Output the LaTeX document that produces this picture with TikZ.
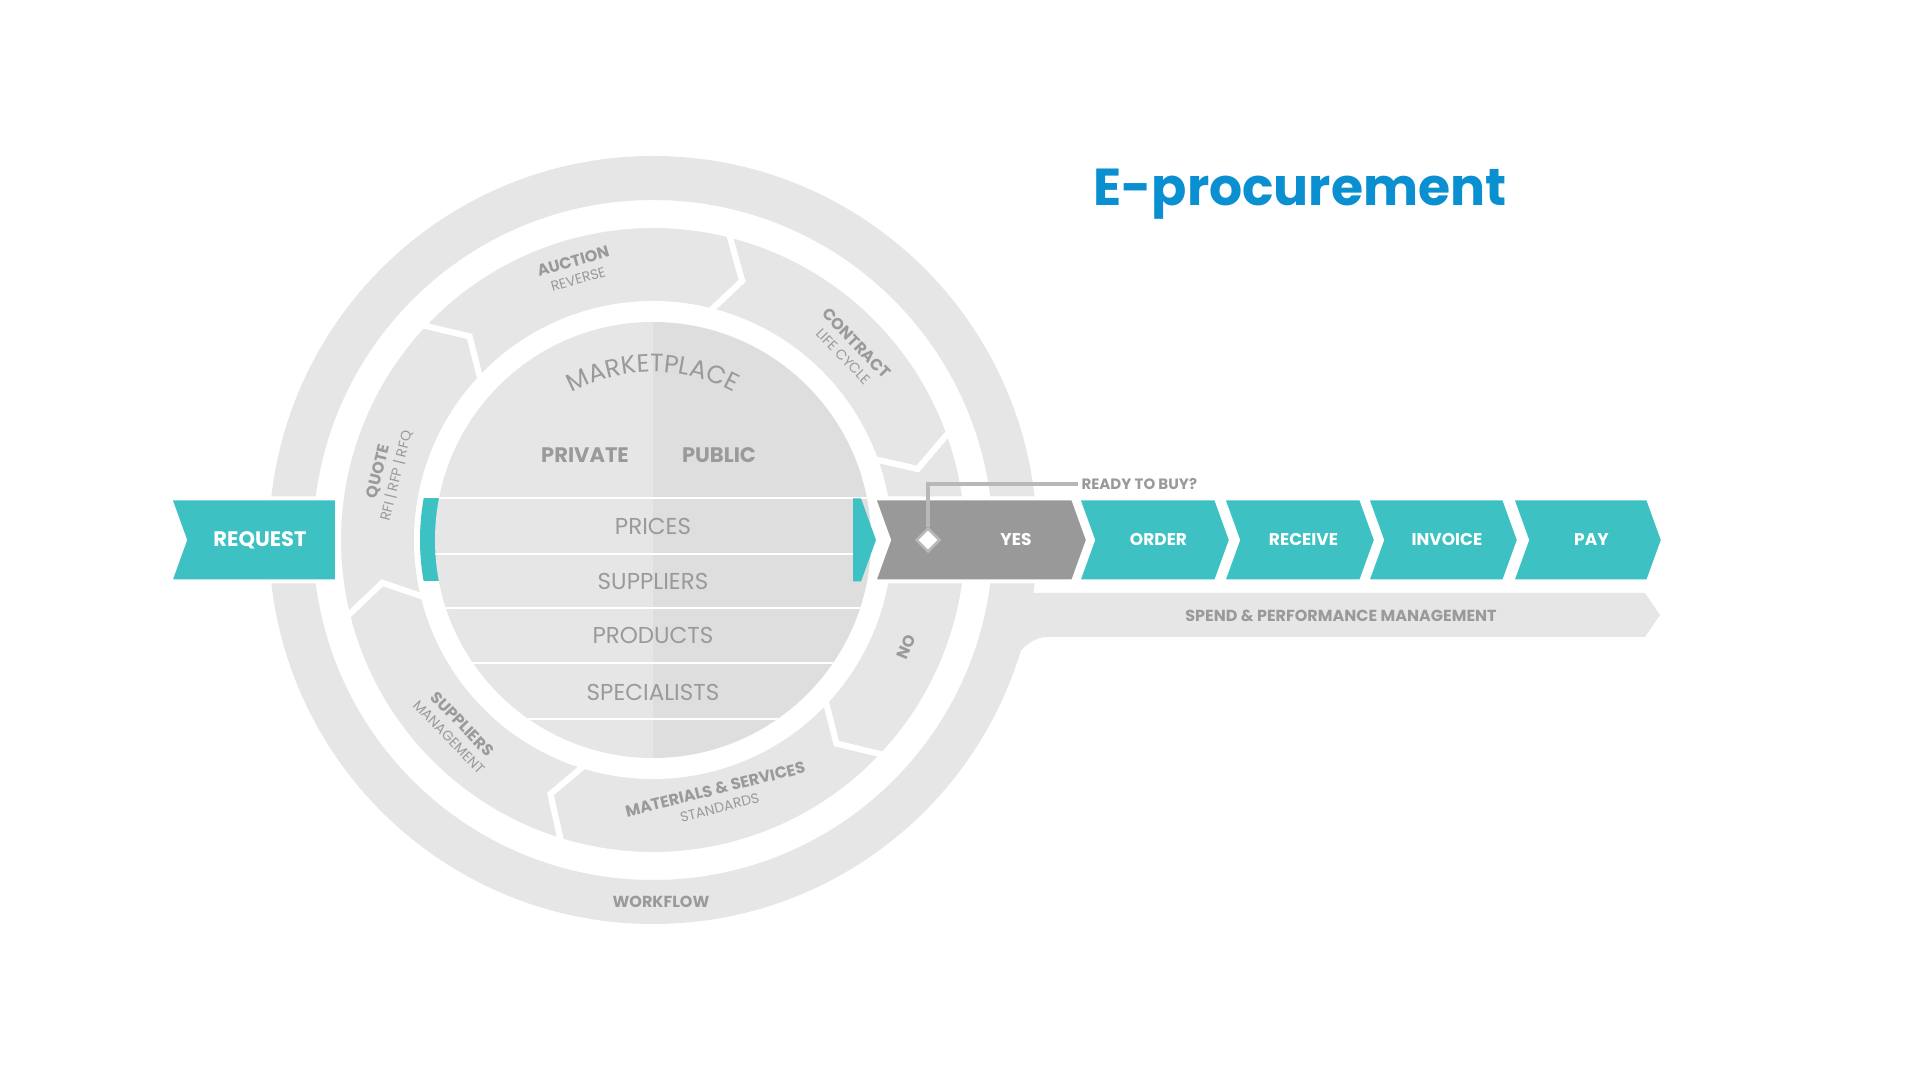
\documentclass[tikz,border=0pt]{standalone}
\usepackage{fontspec}
\setmainfont{Poppins}
\usetikzlibrary{shapes.geometric,decorations.text}
\definecolor{segc}{HTML}{E6E6E6}
\definecolor{segd}{HTML}{DEDEDE}
\definecolor{txt}{HTML}{9A9A9A}
\definecolor{tealc}{HTML}{3DC1C3}
\definecolor{yesc}{HTML}{999999}
\definecolor{titlec}{HTML}{0A8FD0}
\newcommand\fs[1]{\fontsize{#1}{#1}\selectfont}
\newcommand\segpath[2]{(#1:315) arc[start angle=#1,end angle=#2,radius=315] -- ({#2-5}:274) -- (#2:236) arc[start angle=#2,end angle=#1,radius=236] -- ({#1-5}:274) -- cycle}
\tikzset{
  seg/.style={fill=segc,draw=white,line width=6pt,line join=miter},
  chev/.style={fill=tealc,draw=white,line width=4pt,line join=miter},
  chevtxt/.style={text=white,font=\bfseries\fs{17}},
  seglab/.style={text=txt,align=center,inner sep=0pt,font=\fs{16}},
  rowtxt/.style={text=txt,font=\fs{23}},
}
\begin{document}
\begin{tikzpicture}[x=1pt,y=1pt]
\useasboundingbox[fill=white] (0,0) rectangle (1920,1080);
\begin{scope}[shift={(653,540)}]
% workflow ring
\fill[segc,even odd rule] (0,0) circle[radius=384] (0,0) circle[radius=340];
% spend bar
\fill[segc] (328,-100) -- (336,-65) .. controls (336,-57) and (341,-53) .. (350,-53) -- (992,-53) -- (1007,-75) -- (992,-97) -- (395,-97) .. controls (378,-97) and (368,-108) .. (345,-140) -- cycle;
\node[text=txt,font=\bfseries\fs{16}] (spend) at (688,-76) {SPEND \& PERFORMANCE MANAGEMENT};
\node[text=txt,font=\bfseries\fs{16}] (wf) at (8,-362) {WORKFLOW};
% request
\draw[chev] (-483,41.5) -- (-316,41.5) -- (-316,-41.5) -- (-483,-41.5) -- (-468,0) -- cycle;
\node[chevtxt,font=\bfseries\fs{21}] (req) at (-393,0) {REQUEST};
\draw[seg] \segpath{194}{137};
\draw[seg] \segpath{137}{76};
\draw[seg] \segpath{76}{20};
\draw[seg] \segpath{20}{-43};
\draw[seg] \segpath{-43}{-107};
\draw[seg] \segpath{-107}{-166};
% teal left piece
\begin{scope}
\clip (0,0) circle[radius=233];
\fill[tealc] (-250,-41.5) rectangle (-150,41.5);
\end{scope}
% inner circle
\fill[segc] (90:218) arc[start angle=90,end angle=270,radius=218] -- cycle;
\fill[segd] (90:218) arc[start angle=90,end angle=-90,radius=218] -- cycle;
\begin{scope}
\clip (0,0) circle[radius=218];
\foreach \yy in {41.5,-14,-68,-123,-179}{\draw[white,line width=2pt] (-230,\yy) -- (230,\yy);}
\end{scope}
\path[decorate,decoration={text along path,text align=center,text={|\color{txt}\fs{25}|MARKETPLACE}}] (124:168) arc[start angle=124,end angle=56,radius=168];
\node[text=txt,font=\bfseries\fs{21}] (priv) at (-68,85) {PRIVATE};
\node[text=txt,font=\bfseries\fs{21}] (pub) at (66,85) {PUBLIC};
\node[rowtxt] (prices) at (0,14) {PRICES};
\node[rowtxt] (supp) at (0,-41) {SUPPLIERS};
\node[rowtxt] (prod) at (0,-95) {PRODUCTS};
\node[rowtxt] (spec) at (0,-152) {SPECIALISTS};
% segment labels
\node[seglab,rotate=16] (auc) at (106:281) {{\bfseries AUCTION}\\[2pt]{\fs{14}REVERSE}};
\node[seglab,rotate=-46] (con) at (44:274) {{\bfseries CONTRACT}\\[2pt]{\fs{14}LIFE CYCLE}};
\node[seglab,rotate=76] (quo) at (166:274) {{\bfseries QUOTE}\\[2pt]{\fs{14}RFI | RFP | RFQ}};
\node[seglab,rotate=67] (no) at (-23:275) {{\bfseries NO}};
\node[seglab,rotate=14] (mat) at (-76:266) {{\bfseries MATERIALS \& SERVICES}\\[2pt]{\fs{14}STANDARDS}};
\node[seglab,rotate=-46] (sup) at (-136:274) {{\bfseries SUPPLIERS}\\[2pt]{\fs{14}MANAGEMENT}};
% right teal
\fill[tealc] (200,41.5) -- (208,41.5) -- (223,0) -- (208,-41.5) -- (200,-41.5) -- cycle;
\end{scope}
% chevrons
\draw[chev,fill=yesc] (874,581.5) -- (1073,581.5) -- (1088,540) -- (1073,498.5) -- (874,498.5) -- (889,540) -- cycle;
\node[chevtxt] (yes) at (1016,540) {YES};
\foreach \L/\R/\t/\n in {1078/1231/ORDER/ord,1223/1376/RECEIVE/rec,1367/1519/INVOICE/inv,1512/1663/PAY/pay}{
  \draw[chev] (\L,581.5) -- ({\R-15},581.5) -- (\R,540) -- ({\R-15},498.5) -- (\L,498.5) -- ({\L+15},540) -- cycle;
  \node[chevtxt] (\n) at ({(\L+\R)/2+4},540) {\t};
}
% ready to buy
\node[diamond,fill=white,draw=yesc!70,line width=2.5pt,minimum size=24pt,inner sep=0pt] (dia) at (928,540) {};
\node[anchor=west,text=txt,font=\bfseries\fs{15}] (ready) at (1078,596) {READY TO BUY?};
\coordinate (corner) at (928,596);
\draw[yesc!70,line width=4pt] (dia.north) -- (corner) -- (ready.west);
% title
\node[text=titlec,font=\bfseries\fs{52}] (title) at (1300,886) {E-procurement};
\end{tikzpicture}
\end{document}
